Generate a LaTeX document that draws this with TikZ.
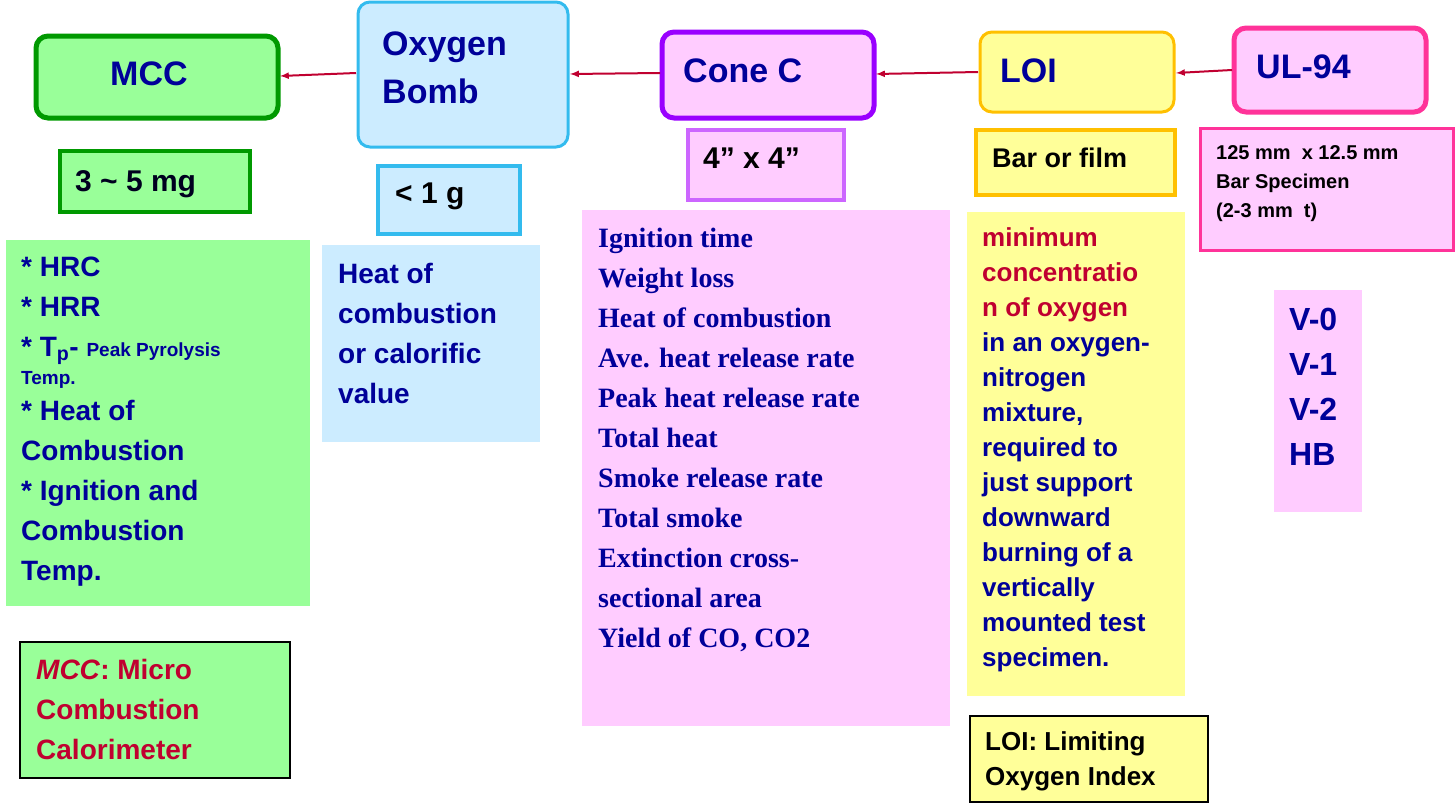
\documentclass[tikz,border=0pt]{standalone}
\usepackage{fontspec}
\setmainfont{Liberation Sans}
\newfontfamily\serifb{Liberation Serif}
\definecolor{navy}{HTML}{000099}
\definecolor{rd}{HTML}{C00030}
\definecolor{gfill}{HTML}{99FF99}
\definecolor{gdraw}{HTML}{009900}
\definecolor{bfill}{HTML}{CCECFF}
\definecolor{bdraw}{HTML}{33BBEE}
\definecolor{pfill}{HTML}{FFCCFF}
\definecolor{pdraw}{HTML}{9900FF}
\definecolor{pdraw2}{HTML}{CC66FF}
\definecolor{yfill}{HTML}{FFFF99}
\definecolor{ydraw}{HTML}{FFC000}
\definecolor{kdraw}{HTML}{FF3399}
\begin{document}
\begin{tikzpicture}[x=1pt,y=-1pt,
  top/.style={rounded corners=12pt,line width=5pt},
  sub/.style={line width=4pt},
  txt/.style={anchor=north west,inner sep=0pt,align=left,text=navy,font=\bfseries\fontsize{28}{40}\selectfont},
  arr/.style={-latex,rd,line width=2pt}]
\useasboundingbox (0,0) rectangle (1456,811);
% top boxes
\draw[top,fill=gfill,draw=gdraw] (36,36) rectangle (278,118);
\node[txt,font=\bfseries\fontsize{34}{40}\selectfont] (mcc) at (110,62) {MCC};
\draw[top,fill=bfill,draw=bdraw,line width=3pt] (358,2) rectangle (568,147);
\node[txt,font=\bfseries\fontsize{34}{48}\selectfont] (ob) at (382,32) {Oxygen\\Bomb};
\draw[top,fill=pfill,draw=pdraw] (662,32) rectangle (874,118);
\node[txt,font=\bfseries\fontsize{34}{40}\selectfont] (cc) at (683,59) {Cone C};
\draw[top,fill=yfill,draw=ydraw,line width=3pt] (980,32) rectangle (1174,112);
\node[txt,font=\bfseries\fontsize{34}{40}\selectfont] (loi) at (1000,59) {LOI};
\draw[top,fill=pfill,draw=kdraw] (1234,28) rectangle (1426,112);
\node[txt,font=\bfseries\fontsize{34}{40}\selectfont] (ul) at (1256,55) {UL-94};
\coordinate (ulL) at (1232,70); \coordinate (loiR) at (1176,73);
\coordinate (loiL) at (978,72); \coordinate (ccR) at (876,74);
\coordinate (ccL) at (660,73); \coordinate (obR) at (570,74);
\coordinate (obL) at (356,73); \coordinate (mccR) at (280,76);
\draw[arr] (ulL) -- (loiR);
\draw[arr] (loiL) -- (ccR);
\draw[arr] (ccL) -- (obR);
\draw[arr] (obL) -- (mccR);
% sub boxes
\draw[sub,fill=gfill,draw=gdraw] (60,151) rectangle (250,212);
\node[txt,text=black!80!navy,font=\bfseries\fontsize{30}{40}\selectfont] (s1) at (75,170) {3 \textasciitilde{} 5 mg};
\draw[sub,fill=bfill,draw=bdraw] (378,166) rectangle (520,234);
\node[txt,text=black,font=\bfseries\fontsize{30}{40}\selectfont] (s2) at (395,183) {< 1 g};
\draw[sub,fill=pfill,draw=pdraw2] (688,130) rectangle (844,200);
\node[txt,text=black,font=\bfseries\fontsize{30}{40}\selectfont] (s3) at (703,148) {4” x 4”};
\draw[sub,fill=yfill,draw=ydraw] (976,130) rectangle (1175,195);
\node[txt,text=black,font=\bfseries\fontsize{27}{40}\selectfont] (s4) at (992,148) {Bar or film};
\draw[line width=3pt,fill=pfill,draw=kdraw] (1200,128) rectangle (1453,250);
\node[txt,text=black,font=\bfseries\fontsize{20}{29}\selectfont] (s5) at (1216,145) {125 mm\ \ x 12.5 mm\\Bar Specimen\\(2-3 mm\ \ t)};
% descriptions
\fill[gfill] (6,240) rectangle (310,606);
\node[txt] (d1) at (21,257) {* HRC\\* HRR\\* T\textsubscript{p}- {\fontsize{19}{24}\selectfont Peak Pyrolysis}\\[-12pt]{\fontsize{19}{24}\selectfont Temp.}\\[-4pt]* Heat of\\Combustion\\* Ignition and\\Combustion\\Temp.};
\fill[bfill] (322,245) rectangle (540,442);
\node[txt] (d2) at (338,263) {Heat of\\combustion\\or calorific\\value};
\fill[pfill] (582,210) rectangle (950,726);
\node[txt,font=\serifb\bfseries\fontsize{28}{40}\selectfont] (d3) at (598,228) {Ignition time\\Weight loss\\Heat of combustion\\Ave. heat release rate\\Peak heat release rate\\Total heat\\Smoke release rate\\Total smoke\\Extinction cross-\\sectional area\\Yield of CO, CO2};
\fill[yfill] (967,212) rectangle (1185,696);
\node[txt,font=\bfseries\fontsize{26}{35}\selectfont] (d4) at (982,227) {\textcolor{rd}{minimum}\\\textcolor{rd}{concentratio}\\\textcolor{rd}{n of oxygen}\\in an oxygen-\\nitrogen\\mixture,\\required to\\just support\\downward\\burning of a\\vertically\\mounted test\\specimen.};
\fill[pfill] (1274,290) rectangle (1362,512);
\node[txt,font=\bfseries\fontsize{32}{45}\selectfont] (d5) at (1289,308) {V-0\\V-1\\V-2\\HB};
% legends
\draw[fill=gfill,line width=1.5pt] (20,642) rectangle (290,778);
\node[txt,text=rd] (l1) at (36,659) {\textit{MCC}: Micro\\Combustion\\Calorimeter};
\draw[fill=yfill,line width=1.5pt] (970,716) rectangle (1208,802);
\node[txt,text=black,font=\bfseries\fontsize{26}{35}\selectfont] (l2) at (985,731) {LOI: Limiting\\Oxygen Index};
\end{tikzpicture}
\end{document}
